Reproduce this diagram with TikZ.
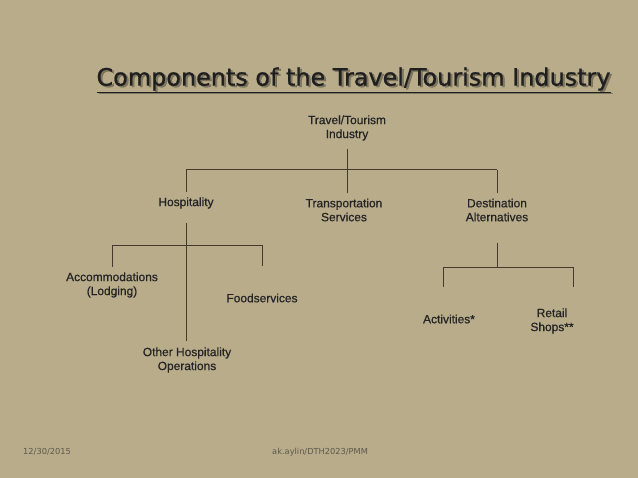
\documentclass[tikz,border=0pt]{standalone}
\usepackage{fontspec}
\setmainfont{Liberation Sans}
\newfontfamily\lblfont{Liberation Sans}[FakeBold=0.6]
\newfontfamily\titlefont{DejaVu Sans}[FakeBold=0.8]
\newfontfamily\footfont{DejaVu Sans}
\usetikzlibrary{positioning}
\definecolor{slidebg}{RGB}{185,172,139}
\definecolor{linebrown}{RGB}{70,58,44}
\definecolor{textgrey}{RGB}{36,36,36}
\definecolor{footgrey}{RGB}{92,88,76}
\tikzset{
    lbl/.style={text=textgrey,font=\lblfont\fontsize{12}{14}\selectfont,align=center,inner sep=0pt},
    conn/.style={draw=linebrown,line width=1bp},
    foot/.style={text=footgrey,font=\footfont\fontsize{8.3}{10}\selectfont,inner sep=0pt,anchor=west}
}

\begin{document}
\begin{tikzpicture}[x=1bp,y=-1bp]
    \fill[slidebg] (0,0) rectangle (638,478);
    \useasboundingbox (0,0) rectangle (638,478);
    % title
    \node[text=black,opacity=0.3,inner sep=0pt] (titleshadow) at (355.5,81.5)
        {\titlefont\fontsize{24}{28}\selectfont\underline{Components of the Travel/Tourism Industry}};
    \node[text=black!88,inner sep=0pt] (title) at (353.5,80)
        {\titlefont\fontsize{24}{28}\selectfont\underline{Components of the Travel/Tourism Industry}};
    % first level
    \node[lbl] (tti) at (347,128) {Travel/Tourism\\Industry};
    \node[lbl] (hosp) at (186,203) {Hospitality};
    \node[lbl] (trans) at (344,210) {Transportation\\Services};
    \node[lbl] (dest) at (497,210) {Destination\\Alternatives};
    % second level
    \node[lbl] (acc) at (112,285) {Accommodations\\(Lodging)};
    \node[lbl] (food) at (262,298) {Foodservices};
    \node[lbl] (other) at (187,360) {Other Hospitality\\Operations};
    \node[lbl] (act) at (449,319) {Activities*};
    \node[lbl] (shop) at (552,321) {Retail\\Shops**};
    % bus lines
    \coordinate (tbus) at (347,170);
    \coordinate (hbus) at (186,245);
    \coordinate (dbus) at (497,267);
    \coordinate (dbusl) at (443,267);
    \coordinate (dbusr) at (573,267);
    \draw[conn] ([yshift=-8bp]tti.south) -- ([yshift=5bp]tti.south |- trans.north);
    \draw[conn] (hosp.north |- tbus) -- (dest.north |- tbus);
    \draw[conn] (hosp.north |- tbus) -- ([yshift=5bp]hosp.north);
    \draw[conn] (dest.north |- tbus) -- ([yshift=5bp]dest.north);
    \draw[conn] ([yshift=-14bp]hosp.south) -- ([yshift=6bp]hosp.south |- other.north);
    \draw[conn] (acc.north |- hbus) -- (food.north |- hbus);
    \draw[conn] (acc.north |- hbus) -- ([yshift=5bp]acc.north);
    \draw[conn] (food.north |- hbus) -- ++(0,21);
    \draw[conn] ([yshift=-21bp]dest.south) -- (dbus);
    \draw[conn] (dbusl) -- (dbusr);
    \draw[conn] (dbusl) -- ++(0,20);
    \draw[conn] (dbusr) -- ++(0,20);
    % footer
    \node[foot] (date) at (23,452) {12/30/2015};
    \node[foot] (src) at (272,452) {ak.aylin/DTH2023/PMM};
\end{tikzpicture}
\end{document}
